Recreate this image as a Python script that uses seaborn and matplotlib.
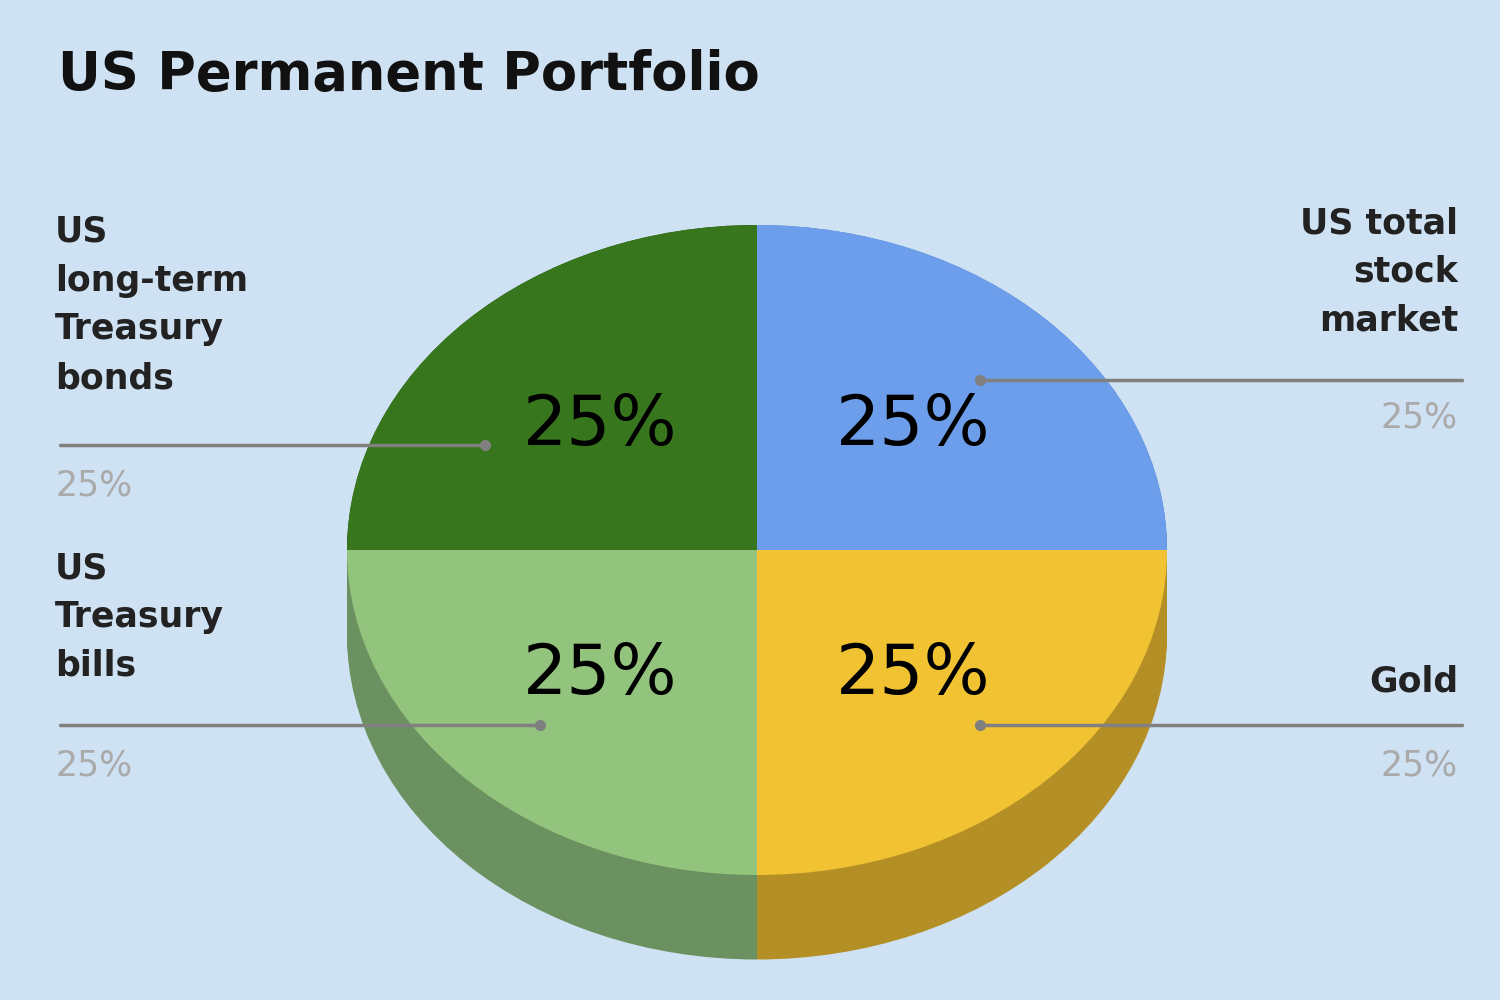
import matplotlib.pyplot as plt
import seaborn as sns

sns.set_theme(style="white")
plt.rcParams['font.family'] = ['DejaVu Sans']

labels = ["US long-term Treasury bonds", "US Treasury bills", "Gold", "US total stock market"]
values = [25, 25, 25, 25]
colors = ["#38761d", "#93c47d", "#f1c232", "#6d9eeb"]
side_colors = ["#2c5c17", "#6b9160", "#b38f26", "#527bbd"]
bg = "#cfe2f3"

fig = plt.figure(figsize=(15, 10), dpi=100, facecolor=bg)

# pie axes: 1 unit x = 410 px, 1 unit y = 325 px, centre at (757, 550)
ax = fig.add_axes([0, 0, 1, 1])
ax.set_facecolor(bg)
# depth of the 3D look
for k in range(30):
    off = -0.26 * (1 - k / 29)
    ax.pie(values, colors=side_colors, startangle=90, counterclock=True,
           center=(0, off), radius=1, wedgeprops=dict(linewidth=0))
ax.pie(values, colors=colors, startangle=90, counterclock=True, autopct='%d%%',
       pctdistance=0.54, radius=1, wedgeprops=dict(linewidth=0),
       textprops=dict(fontsize=50, color='black'))
ax.set_aspect('auto')
ax.set_xlim((0 - 757) / 410, (1500 - 757) / 410)
ax.set_ylim((550 - 1000) / 325, 550 / 325)
ax.axis('off')

# overlay in pixel coordinates for title, labels and leader lines
ov = fig.add_axes([0, 0, 1, 1])
ov.set_xlim(0, 1500)
ov.set_ylim(1000, 0)
ov.axis('off')
ov.patch.set_alpha(0)

ov.text(58, 75, "US Permanent Portfolio", fontsize=38, fontweight='bold',
        color='#111111', va='center')

lc = "#808080"
pc = "#aaaaaa"
fs = 25
ls = 1.55
# long-term bonds
ov.text(55, 305, "US\nlong-term\nTreasury\nbonds", fontsize=fs, fontweight='bold',
        color='#222222', va='center', linespacing=ls)
ov.plot([60, 485], [445, 445], color=lc, lw=2.5)
ov.plot(485, 445, 'o', color=lc, ms=7)
ov.text(55, 485, "25%", fontsize=fs, color=pc, va='center')
# T-bills
ov.text(55, 617, "US\nTreasury\nbills", fontsize=fs, fontweight='bold',
        color='#222222', va='center', linespacing=ls)
ov.plot([60, 540], [725, 725], color=lc, lw=2.5)
ov.plot(540, 725, 'o', color=lc, ms=7)
ov.text(55, 765, "25%", fontsize=fs, color=pc, va='center')
# stocks
ov.text(1458, 272, "US total\nstock\nmarket", fontsize=fs, fontweight='bold',
        color='#222222', va='center', ha='right', linespacing=ls)
ov.plot([980, 1462], [380, 380], color=lc, lw=2.5)
ov.plot(980, 380, 'o', color=lc, ms=7)
ov.text(1458, 418, "25%", fontsize=fs, color=pc, va='center', ha='right')
# gold
ov.text(1458, 682, "Gold", fontsize=fs, fontweight='bold',
        color='#222222', va='center', ha='right')
ov.plot([980, 1462], [725, 725], color=lc, lw=2.5)
ov.plot(980, 725, 'o', color=lc, ms=7)
ov.text(1458, 765, "25%", fontsize=fs, color=pc, va='center', ha='right')

fig.savefig("out.png", dpi=100, facecolor=bg)
